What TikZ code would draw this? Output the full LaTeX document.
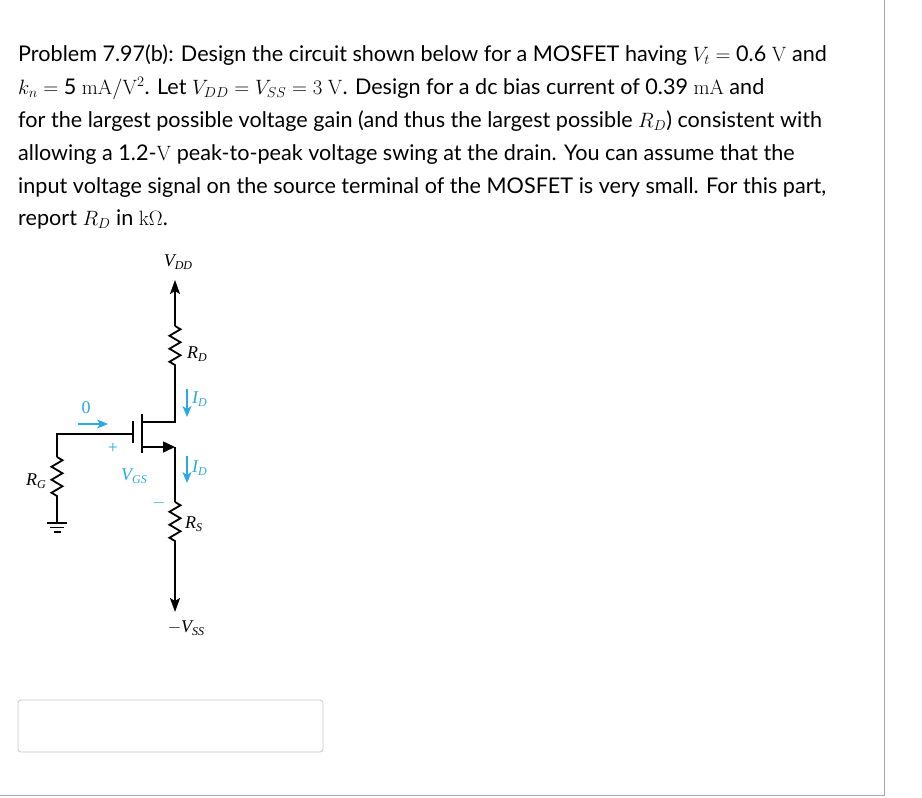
\documentclass[tikz,border=0pt]{standalone}
\usepackage[no-math]{fontspec}
\setmainfont{Lato}
\newfontfamily\circfont{Liberation Serif}
\usetikzlibrary{decorations.pathmorphing,arrows.meta}
\definecolor{cblue}{RGB}{41,170,226}
\newcommand{\sbs}[1]{\raisebox{-3.5pt}{\fontsize{12}{13}\selectfont #1}}
\begin{document}
\begin{tikzpicture}[x=1pt,y=-1pt,
  txt/.style={anchor=base west,inner sep=0,font=\fontsize{21.6}{26}\selectfont},
  wire/.style={line width=1.5pt},
  res/.style={line width=1.8pt,decorate,decoration={zigzag,amplitude=5.5,segment length=13}},
  lab/.style={font=\circfont\itshape\fontsize{18}{20}\selectfont,inner sep=0},
  blab/.style={lab,text=cblue},
  barrow/.style={cblue,line width=1.4pt,-{Stealth[length=11pt,width=9pt,inset=3pt]}}]
\useasboundingbox (0,0) rectangle (922,798);
\draw[gray!70,line width=1pt] (884,0) -- (884,795) -- (0,795);
\node[txt] (l1) at (18,61) {Problem 7.97(b): Design the circuit shown below for a MOSFET having $V_t=$ 0.6 $\mathrm{V}$ and};
\node[txt] (l2) at (18,94) {$k_n=$ 5 $\mathrm{mA}/\mathrm{V}^2$. Let $V_{DD}=V_{SS}=3\ \mathrm{V}$. Design for a dc bias current of 0.39 $\mathrm{mA}$ and};
\node[txt] (l3) at (18,127) {for the largest possible voltage gain (and thus the largest possible $R_D$) consistent with};
\node[txt] (l4) at (18,160) {allowing a 1.2-$\mathrm{V}$ peak-to-peak voltage swing at the drain. You can assume that the};
\node[txt] (l5) at (18,193) {input voltage signal on the source terminal of the MOSFET is very small. For this part,};
\node[txt] (l6) at (18,225) {report $R_D$ in $\mathrm{k\Omega}$.};
% circuit coordinates
\coordinate (vddtip) at (175,280);
\coordinate (rdt) at (175,326);
\coordinate (rdb) at (175,368);
\coordinate (dr) at (175,422);
\coordinate (dc) at (142,422);
\coordinate (src) at (175,447);
\coordinate (sc) at (142,447);
\coordinate (rst) at (175,502);
\coordinate (rsb) at (175,544);
\coordinate (vsstip) at (175,612);
\coordinate (ch1) at (142,414);
\coordinate (ch2) at (142,453);
\coordinate (gp1) at (133,421);
\coordinate (gp2) at (133,443);
\coordinate (gw) at (133,434);
\coordinate (gc) at (57,434);
\coordinate (rgt) at (57,457);
\coordinate (rgb) at (57,499);
\coordinate (gnd) at (57,523);
\draw[wire,-{Stealth[length=14pt,width=10pt,inset=3pt]}] (rdt) -- (vddtip);
\draw[res] (rdt) -- (rdb);
\draw[wire] (rdb) -- (dr) -- (dc);
\draw[line width=2.4pt] (ch1) -- (ch2);
\draw[line width=2.4pt] (gp1) -- (gp2);
\draw[wire] (gw) -- (gc) -- (rgt);
\draw[res] (rgt) -- (rgb);
\draw[wire] (rgb) -- (gnd);
\draw[line width=1.8pt] (47,523) -- (67,523) (50,527.5) -- (64,527.5) (53.5,532) -- (60.5,532);
\draw[wire,-{Triangle[length=12pt,width=11pt]}] (sc) -- (src);
\draw[wire] (src) -- (rst);
\draw[res] (rst) -- (rsb);
\draw[wire,-{Stealth[length=14pt,width=10pt,inset=3pt]}] (rsb) -- (vsstip);
\node[lab] (vdd) at (178,262) {V\sbs{DD}};
\node[lab] (vss) at (186,628) {\upshape$-$\itshape V\sbs{SS}};
\node[lab,anchor=west] (rdl) at (187,354) {R\sbs{D}};
\node[lab,anchor=west] (rsl) at (185,524) {R\sbs{S}};
\node[lab,anchor=east] (rgl) at (46,481) {R\sbs{G}};
% blue annotations
\coordinate (i1a) at (187,389); \coordinate (i1b) at (187,417);
\coordinate (i2a) at (187,456); \coordinate (i2b) at (187,483);
\coordinate (g0a) at (78,424); \coordinate (g0b) at (108,424);
\draw[barrow] (i1a) -- (i1b);
\draw[barrow] (i2a) -- (i2b);
\draw[barrow] (g0a) -- (g0b);
\node[blab,anchor=west] (id1) at (192,399) {I\sbs{D}};
\node[blab,anchor=west] (id2) at (192,468) {I\sbs{D}};
\node[blab] (zero) at (86,408) {\upshape 0};
\node[blab] (plus) at (113,448) {\upshape +};
\node[blab] (vgs) at (134,476) {V\sbs{GS}};
\node[blab] (minus) at (159,503) {\upshape $-$};
% answer box
\draw[gray!45,line width=0.8pt,rounded corners=3pt] (18,700) rectangle (323,752);
\end{tikzpicture}
\end{document}
